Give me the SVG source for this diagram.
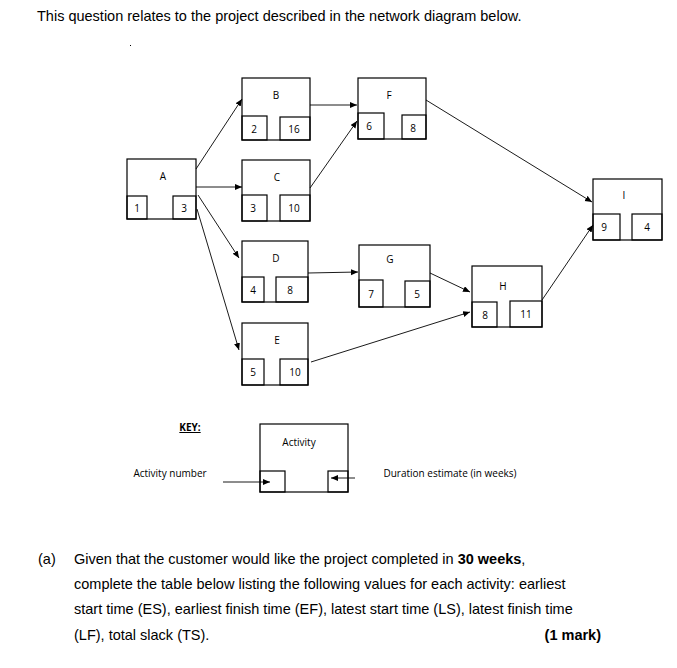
<svg xmlns="http://www.w3.org/2000/svg" width="677" height="668" viewBox="0 0 677 668">
<style>
.b{fill:#fff;stroke:#000;stroke-width:1.2}
.s{fill:none;stroke:#000;stroke-width:1.2}
.n{font-family:"Open Sans","DejaVu Sans",sans-serif;font-size:10px;text-anchor:middle}
.c line{stroke:#000;stroke-width:0.9}
.t{font-family:"Liberation Sans",Arial,sans-serif;font-size:14.5px}
</style>
<defs><marker id="ar" markerWidth="8" markerHeight="8" refX="7" refY="3" orient="auto" markerUnits="userSpaceOnUse"><path d="M0,0 L7,3 L0,6z"/></marker></defs>
<rect width="677" height="668" fill="#fff"/>
<text class="t" x="37" y="21">This question relates to the project described in the network diagram below.</text>
<rect x="130" y="45" width="1" height="1" fill="#000"/>
<g id="A"><rect class="b" x="127" y="159" width="69" height="60"/><rect class="s" x="127" y="196" width="20" height="23"/><rect class="s" x="173" y="196" width="23" height="23"/><text class="n" x="163" y="180">A</text><text class="n" x="137" y="212">1</text><text class="n" x="184" y="212">3</text></g>
<g id="B"><rect class="b" x="242" y="78" width="68" height="62"/><rect class="s" x="242" y="116" width="25" height="24"/><rect class="s" x="280" y="117" width="30" height="23"/><text class="n" x="254" y="133">2</text><text class="n" x="276" y="99">B</text><text class="n" x="294" y="133">16</text></g>
<g id="C"><rect class="b" x="242" y="160" width="68" height="61"/><rect class="s" x="242" y="195" width="25" height="26"/><rect class="s" x="280" y="195" width="30" height="26"/><text class="n" x="277" y="181">C</text><text class="n" x="253" y="212">3</text><text class="n" x="294" y="212">10</text></g>
<g id="F"><rect class="b" x="358" y="78" width="68" height="61"/><rect class="s" x="358" y="113" width="26" height="26"/><rect class="s" x="402" y="115" width="24" height="24"/><text class="n" x="389" y="99">F</text><text class="n" x="369" y="130">6</text><text class="n" x="413" y="132">8</text></g>
<g id="D"><rect class="b" x="242" y="241" width="66" height="61"/><rect class="s" x="242" y="277" width="22" height="25"/><rect class="s" x="276" y="277" width="32" height="25"/><text class="n" x="276" y="262">D</text><text class="n" x="253" y="294">4</text><text class="n" x="290" y="294">8</text></g>
<g id="G"><rect class="b" x="359" y="245" width="71" height="62"/><rect class="s" x="359" y="280" width="24" height="27"/><rect class="s" x="405" y="281" width="25" height="26"/><text class="n" x="390" y="263">G</text><text class="n" x="371" y="298">7</text><text class="n" x="417" y="298">5</text></g>
<g id="H"><rect class="b" x="472" y="266" width="70" height="61"/><rect class="s" x="472" y="302" width="25" height="25"/><rect class="s" x="510" y="301" width="32" height="26"/><text class="n" x="503" y="290">H</text><text class="n" x="485" y="319">8</text><text class="n" x="526" y="318">11</text></g>
<g id="E"><rect class="b" x="242" y="323" width="66" height="62"/><rect class="s" x="242" y="359" width="22" height="26"/><rect class="s" x="280" y="359" width="28" height="26"/><text class="n" x="277" y="344">E</text><text class="n" x="253" y="376">5</text><text class="n" x="295" y="376">10</text></g>
<g id="I"><rect class="b" x="593" y="179" width="69" height="61"/><rect class="s" x="593" y="214" width="27" height="26"/><rect class="s" x="632" y="214" width="30" height="26"/><text class="n" x="624" y="199">I</text><text class="n" x="604" y="231">9</text><text class="n" x="647" y="231">4</text></g>
<g id="key">
<rect class="b" x="260" y="424" width="88" height="68"/><rect class="s" x="260" y="471" width="25" height="21"/><rect class="s" x="328" y="471" width="20" height="21"/>
<text class="n" x="299" y="446">Activity</text>
<text class="n" x="190" y="431" style="font-weight:bold;text-decoration:underline">KEY:</text>
<text class="n" x="170" y="477">Activity number</text>
<text class="n" x="450" y="477">Duration estimate (in weeks)</text>
</g>
<g class="c">
<line x1="196" y1="169" x2="242" y2="99" marker-end="url(#ar)"/>
<line x1="196" y1="187" x2="242" y2="187" marker-end="url(#ar)"/>
<line x1="198" y1="195" x2="239" y2="258" marker-end="url(#ar)"/>
<line x1="197" y1="209" x2="239" y2="350" marker-end="url(#ar)"/>
<line x1="310" y1="105" x2="357" y2="105" marker-end="url(#ar)"/>
<line x1="310" y1="188" x2="357" y2="121" marker-end="url(#ar)"/>
<line x1="426" y1="100" x2="592" y2="202" marker-end="url(#ar)"/>
<line x1="308" y1="273" x2="358" y2="272" marker-end="url(#ar)"/>
<line x1="430" y1="273" x2="470" y2="292" marker-end="url(#ar)"/>
<line x1="311" y1="362" x2="470" y2="312" marker-end="url(#ar)"/>
<line x1="542" y1="300" x2="593" y2="225" marker-end="url(#ar)"/>
<line x1="223" y1="482" x2="270" y2="482" marker-end="url(#ar)"/>
<line x1="355" y1="478" x2="331" y2="478" marker-end="url(#ar)"/>
</g>
<g class="t">
<text x="38" y="564">(a)</text>
<text x="74" y="564">Given that the customer would like the project completed in <tspan font-weight="bold">30 weeks</tspan>,</text>
<text x="74" y="589">complete the table below listing the following values for each activity: earliest</text>
<text x="74" y="614">start time (ES), earliest finish time (EF), latest start time (LS), latest finish time</text>
<text x="74" y="640">(LF), total slack (TS).</text>
<text x="601" y="640" font-weight="bold" text-anchor="end">(1 mark)</text>
</g>
</svg>
